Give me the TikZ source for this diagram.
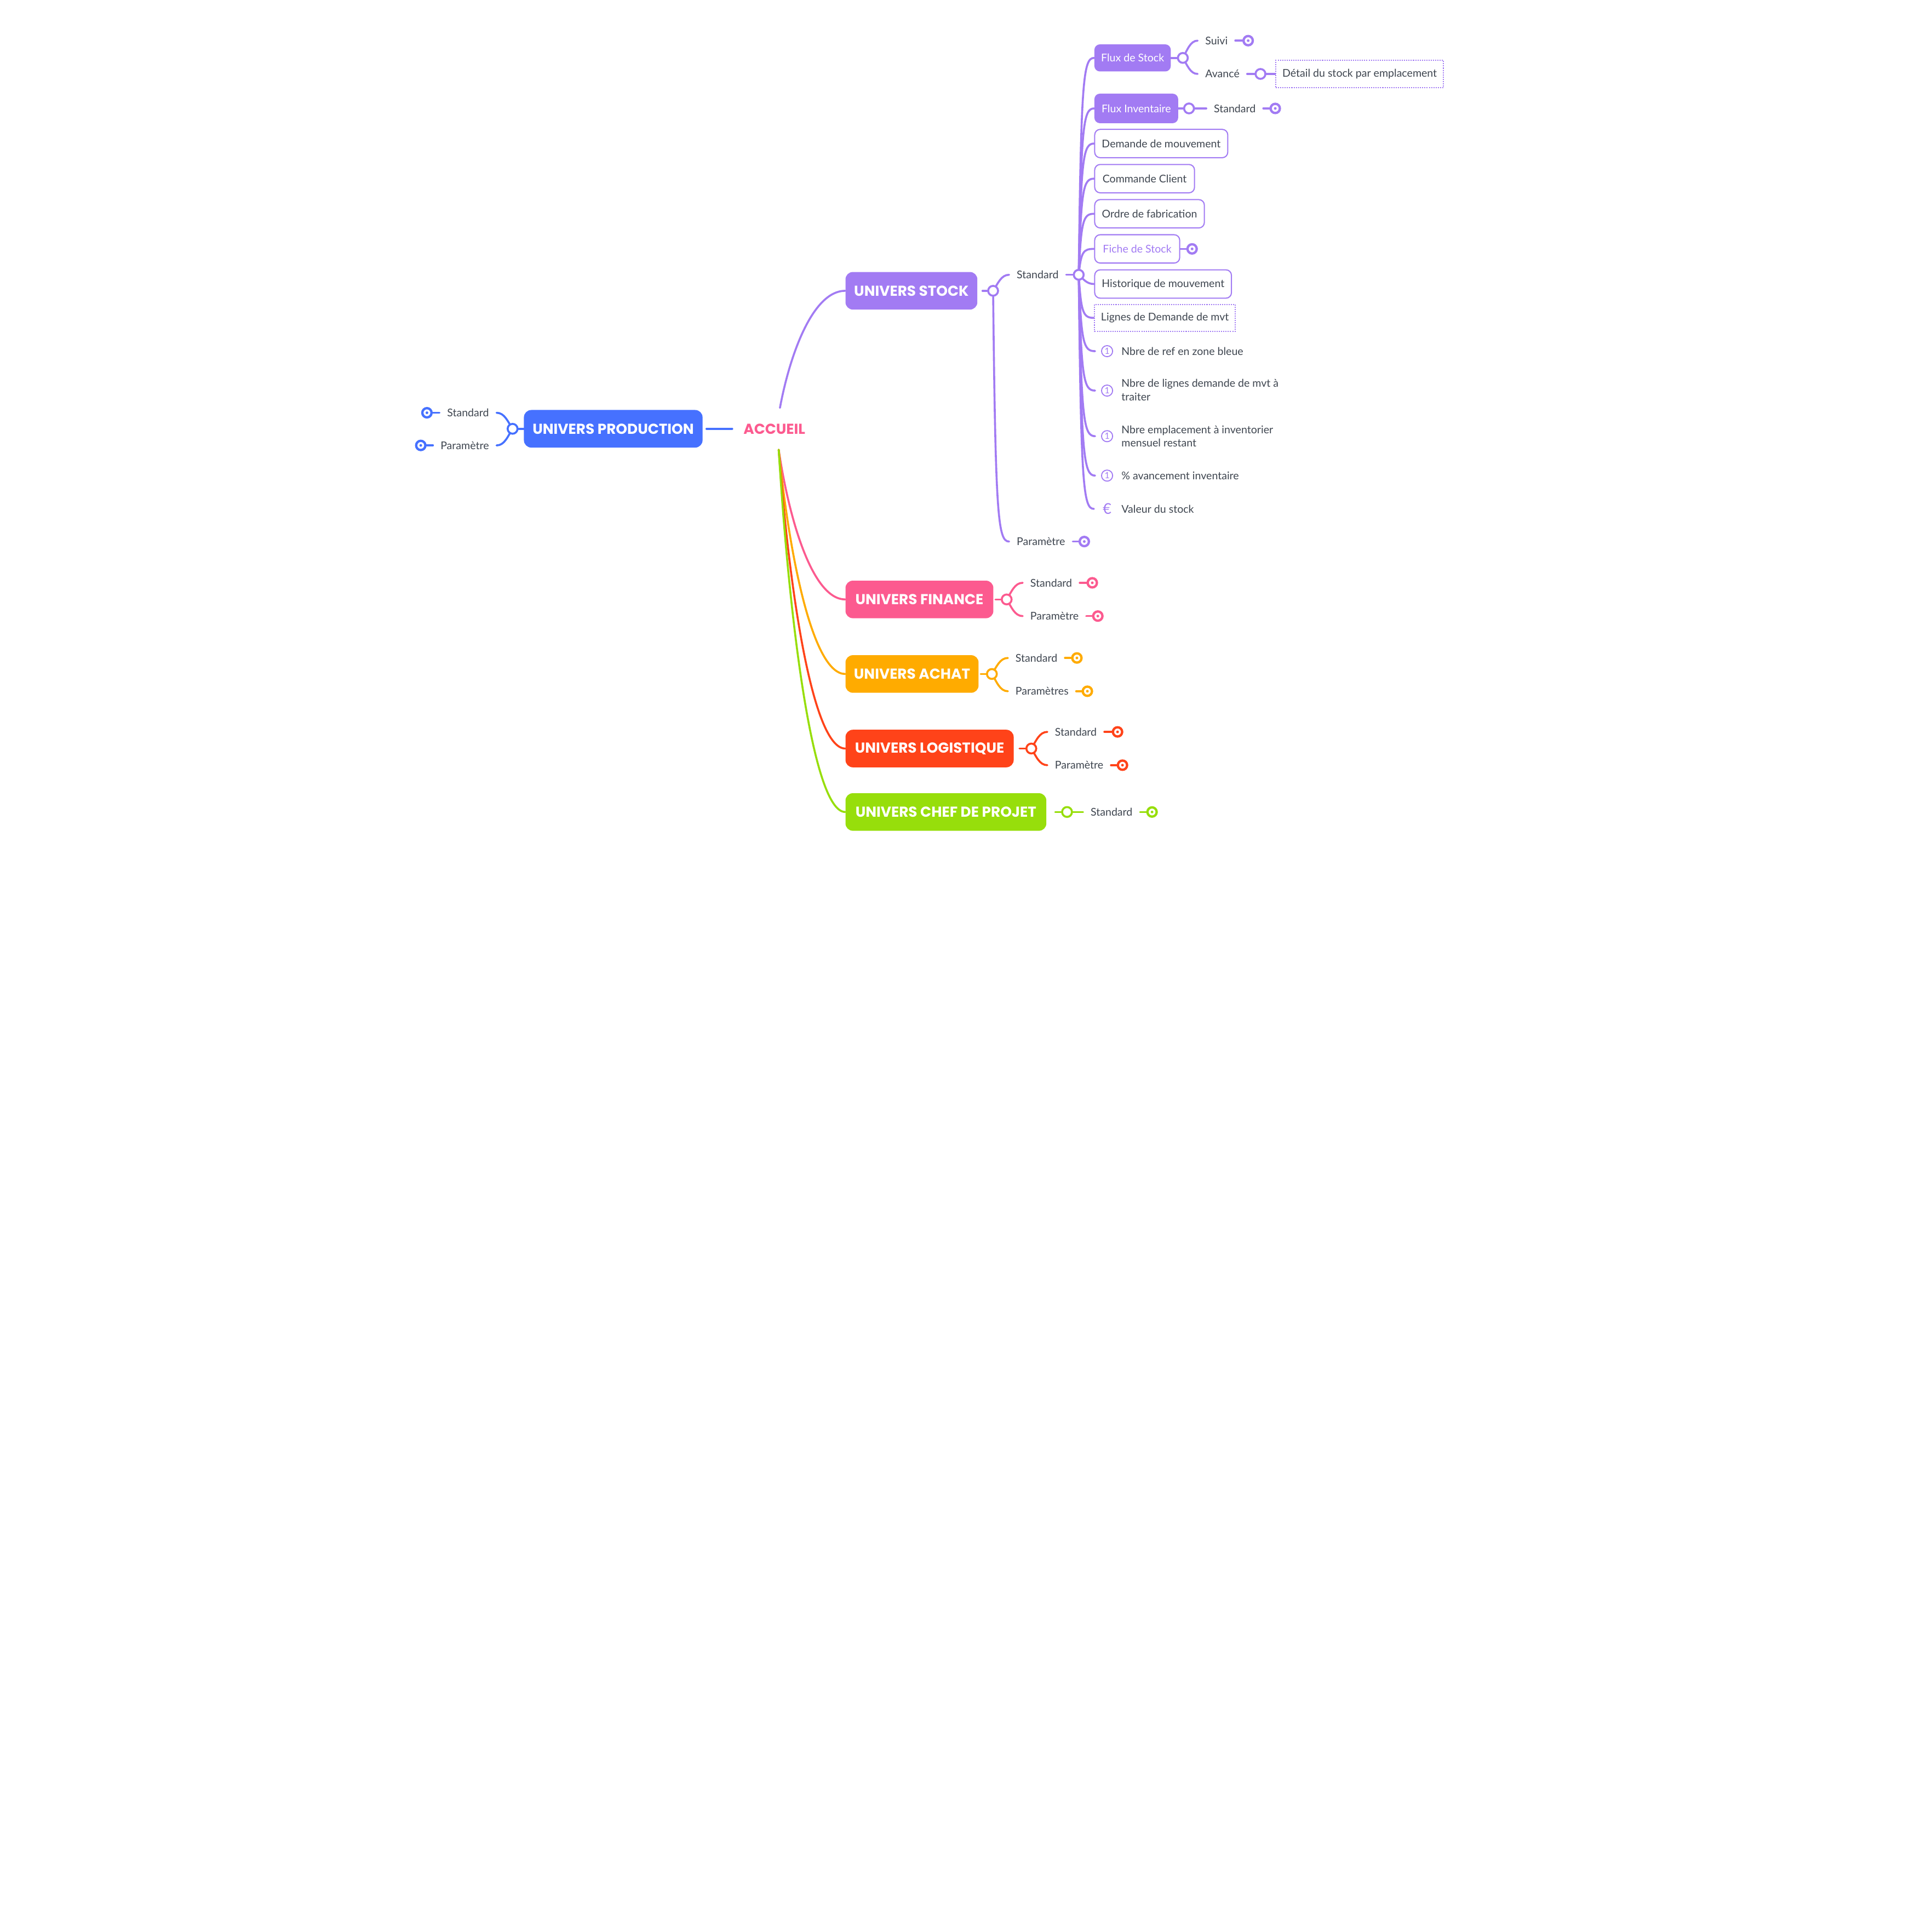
\documentclass[tikz,border=0pt]{standalone}
\usepackage{fontspec}
\setmainfont{Lato}
\newfontfamily\headfont{Poppins}
\usetikzlibrary{calc,backgrounds}
\definecolor{stockc}{HTML}{A27BF3}
\definecolor{prodc}{HTML}{4671FF}
\definecolor{finc}{HTML}{FC5A8F}
\definecolor{achc}{HTML}{FFAB00}
\definecolor{logc}{HTML}{FF4319}
\definecolor{chefc}{HTML}{97DE0B}
\definecolor{txtc}{HTML}{3F4650}
\colorlet{cur}{stockc}
\tikzset{
  x=1pt,y=-1pt,
  link/.style={draw=cur,line width=1.6pt,line cap=round},
  hubn/.style={circle,draw=cur,fill=white,line width=1.6pt,minimum size=8pt,inner sep=0pt},
  knob/.style={circle,draw=cur,fill=white,line width=1.9pt,minimum size=7.5pt,inner sep=0pt,
    path picture={\fill[cur] (path picture bounding box.center) circle (1.1pt);}},
  headbox/.style={anchor=west,rounded corners=6pt,fill=cur,text=white,inner sep=0pt,minimum height=30.5pt,
    font=\headfont\bfseries\fontsize{11.7}{13}\selectfont},
  fillbox/.style={anchor=west,rounded corners=4.5pt,fill=cur,text=white,inner sep=0pt,font=\fontsize{8.7}{10}\selectfont},
  linebox/.style={anchor=west,rounded corners=4.5pt,draw=cur,fill=white,line width=0.9pt,text=txtc,inner sep=0pt,minimum height=23pt,font=\fontsize{8.7}{10}\selectfont},
  dotbox/.style={anchor=west,draw=cur,fill=white,line width=0.9pt,dash pattern=on 0.9pt off 0.9pt,text=txtc,inner sep=0pt,minimum height=22pt,font=\fontsize{8.7}{10}\selectfont},
  lab/.style={anchor=west,inner xsep=6pt,inner ysep=0pt,text=txtc,font=\fontsize{8.7}{10}\selectfont},
  labl/.style={lab,anchor=east},
  plain/.style={anchor=west,inner sep=0pt,text=txtc,align=left,font=\fontsize{8.7}{11}\selectfont},
  iconc/.style={circle,draw=cur,line width=0.8pt,minimum size=9pt,inner sep=0pt,outer sep=5.25pt,text=cur,font=\fontsize{7}{7}\selectfont},
  icone/.style={inner sep=0pt,minimum width=21pt,text=cur,font=\fontsize{12}{12}\selectfont},
}
% short forks
\newcommand{\vc}[2]{\begin{pgfonlayer}{background}\draw[link] let \p1=(#1),\p2=(#2) in (\p1) .. controls ({\x1+0.3*(\x2-\x1)},{\y1+0.45*(\y2-\y1)}) and ({\x1+0.5*(\x2-\x1)},\y2) .. (\p2);\end{pgfonlayer}}
% tall forks
\newcommand{\vt}[2]{\begin{pgfonlayer}{background}\draw[link] let \p1=(#1),\p2=(#2) in (\p1) .. controls ({\x1+0.15*(\x2-\x1)},{\y1+0.9*(\y2-\y1)}) and ({\x1+0.3*(\x2-\x1)},\y2) .. (\p2);\end{pgfonlayer}}
% main branches from the centre
\newcommand{\vm}[2]{\begin{pgfonlayer}{background}\draw[link] let \p1=(#1),\p2=(#2) in (\p1) .. controls ({\x1+0.15*(\x2-\x1)},{\y1+0.45*(\y2-\y1)}) and ({\x1+0.5*(\x2-\x1)},\y2) .. (\p2);\end{pgfonlayer}}
\newcommand{\st}[3][]{\begin{pgfonlayer}{background}\draw[link,#1] (#2) -- (#3);\end{pgfonlayer}}
\begin{document}
\begin{tikzpicture}
\useasboundingbox (0,0) rectangle (1553.8,1568);
\begin{pgfonlayer}{background}\fill[white] (0,0) rectangle (1553.8,1568);\end{pgfonlayer}

% centre
\node[inner sep=0pt,text=finc,font=\headfont\bfseries\fontsize{11.7}{13}\selectfont] (accueil) at (628.5,348) {ACCUEIL};
\coordinate (accT) at (633,331);
\coordinate (accB) at (632,365);

% production
\begin{scope}
\colorlet{cur}{prodc}
\node[headbox,minimum width=145pt] (prod) at (425,348) {UNIVERS PRODUCTION};
\node[hubn] (prodh) at (416,348) {};
\node[labl] (prods) at (403,335) {Standard};
\node[labl] (prodp) at (403,361.5) {Paramètre};
\node[knob] (prodsk) at (346.5,335) {};
\node[knob] (prodpk) at (341.5,361.5) {};
\st{prod.west}{prodh.center}
\vc{prodh.center}{prods.east}
\vc{prodh.center}{prodp.east}
\st{prods.west}{prodsk.center}
\st{prodp.west}{prodpk.center}
\st[shorten <=3pt,shorten >=9pt]{prod.east}{accueil.west}
\end{scope}

% stock
\begin{scope}
\colorlet{cur}{stockc}
\node[headbox,minimum width=107pt] (stock) at (686,236) {UNIVERS STOCK};
\node[hubn] (stockh) at (806,236) {};
\node[lab] (stocks) at (819,223) {Standard};
\node[lab] (stockp) at (819,439.5) {Paramètre};
\node[knob] (stockpk) at (880,439.5) {};
\node[hubn] (stocksh) at (875.5,223) {};
\vm{accT}{stock.west}
\st[shorten <=4pt]{stock.east}{stockh.center}
\vc{stockh.center}{stocks.west}
\vt{stockh.center}{stockp.west}
\st{stockp.east}{stockpk.center}
\st{stocks.east}{stocksh.center}
% flux de stock
\node[fillbox,minimum width=62pt,minimum height=22pt] (fs) at (888,47) {Flux de Stock};
\node[hubn] (fsh) at (960,47) {};
\node[lab] (suivi) at (972,33) {Suivi};
\node[lab] (avance) at (972,60) {Avancé};
\node[knob] (suivik) at (1013,33) {};
\node[hubn] (avanceh) at (1023,60) {};
\node[dotbox,minimum width=136pt] (detail) at (1035,60) {Détail du stock par emplacement};
\vt{stocksh.center}{fs.west}
\st{fs.east}{fsh.center}
\vc{fsh.center}{suivi.west}
\vc{fsh.center}{avance.west}
\st{suivi.east}{suivik.center}
\st{avance.east}{avanceh.center}
\st{avanceh.center}{detail.west}
% flux inventaire
\node[fillbox,minimum width=68pt,minimum height=24pt] (fi) at (888,88) {Flux Inventaire};
\node[hubn] (fih) at (965,88) {};
\node[lab] (fis) at (979,88) {Standard};
\node[knob] (fisk) at (1035,88) {};
\vt{stocksh.center}{fi.west}
\st{fi.east}{fih.center}
\st{fih.center}{fis.west}
\st{fis.east}{fisk.center}
% boxes
\node[linebox,minimum width=108pt] (dm) at (888,116.5) {Demande de mouvement};
\node[linebox,minimum width=81pt] (cc) at (888,145) {Commande Client};
\node[linebox,minimum width=89pt] (of) at (888,173.5) {Ordre de fabrication};
\node[linebox,minimum width=69pt,text=cur] (fc) at (888,202) {Fiche de Stock};
\node[knob] (fck) at (967.5,202) {};
\node[linebox,minimum width=111pt] (hm) at (888,230.5) {Historique de mouvement};
\node[dotbox,minimum width=114pt] (ld) at (888,258) {Lignes de Demande de mvt};
\vt{stocksh.center}{dm.west}
\vt{stocksh.center}{cc.west}
\vt{stocksh.center}{of.west}
\vt{stocksh.center}{fc.west}
\st{fc.east}{fck.center}
\vc{stocksh.center}{hm.west}
\vt{stocksh.center}{ld.west}
% indicators
\node[iconc] (i1) at (898.5,285) {1};
\node[plain] (t1) at (910,285) {Nbre de ref en zone bleue};
\node[iconc] (i2) at (898.5,317) {1};
\node[plain] (t2) at (910,316.5) {Nbre de lignes demande de mvt à\\traiter};
\node[iconc] (i3) at (898.5,354) {1};
\node[plain] (t3) at (910,354) {Nbre emplacement à inventorier\\mensuel restant};
\node[iconc] (i4) at (898.5,386) {1};
\node[plain] (t4) at (910,386) {\% avancement inventaire};
\node[icone] (i5) at (898.5,413) {€};
\node[plain] (t5) at (910,413) {Valeur du stock};
\vt{stocksh.center}{i1.west}
\vt{stocksh.center}{i2.west}
\vt{stocksh.center}{i3.west}
\vt{stocksh.center}{i4.west}
\vt{stocksh.center}{i5.west}
\end{scope}

% finance
\begin{scope}
\colorlet{cur}{finc}
\node[headbox,minimum width=120pt] (fin) at (686,486.5) {UNIVERS FINANCE};
\node[hubn] (finh) at (817,486.5) {};
\node[lab] (fins) at (830,473) {Standard};
\node[lab] (finp) at (830,500) {Paramètre};
\node[knob] (finsk) at (886.5,473) {};
\node[knob] (finpk) at (891,500) {};
\vm{accB}{fin.west}
\st[shorten <=1.5pt]{fin.east}{finh.center}
\vc{finh.center}{fins.west}
\vc{finh.center}{finp.west}
\st{fins.east}{finsk.center}
\st{finp.east}{finpk.center}
\end{scope}

% achat
\begin{scope}
\colorlet{cur}{achc}
\node[headbox,minimum width=108pt] (ach) at (686,547) {UNIVERS ACHAT};
\node[hubn] (achh) at (805,547) {};
\node[lab] (achs) at (818,534) {Standard};
\node[lab] (achp) at (818,561) {Paramètres};
\node[knob] (achsk) at (874,534) {};
\node[knob] (achpk) at (882.5,561) {};
\vm{accB}{ach.west}
\st[shorten <=1.5pt]{ach.east}{achh.center}
\vc{achh.center}{achs.west}
\vc{achh.center}{achp.west}
\st{achs.east}{achsk.center}
\st{achp.east}{achpk.center}
\end{scope}

% logistique
\begin{scope}
\colorlet{cur}{logc}
\node[headbox,minimum width=136.5pt] (log) at (686,607.5) {UNIVERS LOGISTIQUE};
\node[hubn] (logh) at (837,607.5) {};
\node[lab] (logs) at (850,594) {Standard};
\node[lab] (logp) at (850,621) {Paramètre};
\node[knob] (logsk) at (907,594) {};
\node[knob] (logpk) at (911,621) {};
\vm{accB}{log.west}
\st[shorten <=4.5pt]{log.east}{logh.center}
\vc{logh.center}{logs.west}
\vc{logh.center}{logp.west}
\st{logs.east}{logsk.center}
\st{logp.east}{logpk.center}
\end{scope}

% chef de projet
\begin{scope}
\colorlet{cur}{chefc}
\node[headbox,minimum width=163pt] (chef) at (686,659) {UNIVERS CHEF DE PROJET};
\node[hubn] (chefh) at (866,659) {};
\node[lab] (chefs) at (879,659) {Standard};
\node[knob] (chefsk) at (935,659) {};
\vm{accB}{chef.west}
\st[shorten <=7pt]{chef.east}{chefh.center}
\st{chefh.center}{chefs.west}
\st{chefs.east}{chefsk.center}
\end{scope}
\end{tikzpicture}
\end{document}
